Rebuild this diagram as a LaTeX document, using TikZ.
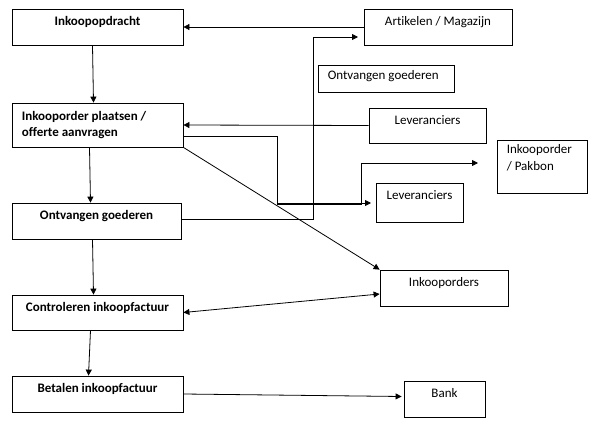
\documentclass[tikz,border=0pt]{standalone}
\usepackage{fontspec}
\setmainfont{Carlito}[Ligatures=NoCommon]
\usetikzlibrary{arrows.meta}
\tikzset{
  >={Triangle[length=6pt,width=6pt]},
  box/.style={draw,line width=0.8pt,inner sep=0pt},
  txt/.style={inner sep=0pt,anchor=base,font=\fontsize{13}{16}\selectfont},
  btxt/.style={txt,font=\fontsize{13}{16}\selectfont\bfseries},
  arr/.style={line width=0.8pt,->},
}
\begin{document}
\begin{tikzpicture}[x=1pt,y=-1pt]
\useasboundingbox (0,0) rectangle (595,428);
% process steps (left)
\foreach \nm/\bx/\by/\bw/\bh/\txt in {opdracht/12/9/171/36/Inkoopopdracht,
    ontvangen/12/203/169/36/Ontvangen goederen,
    controle/12/295/171/35/Controleren inkoopfactuur,
    betalen/12/376/171/36/Betalen inkoopfactuur} {
  \node[box,minimum width=\bw pt,minimum height=\bh pt] (\nm) at ({\bx+\bw/2},{\by+\bh/2}) {};
  \node[btxt] (\nm-t) at ([yshift=-17pt]\nm.north) {\txt};
}
\node[box,minimum width=171pt,minimum height=44pt] (plaatsen) at (97.5,125) {};
\node[btxt,anchor=base west,align=left] (plaatsen-t) at ([xshift=10pt,yshift=-34pt]plaatsen.north west) {Inkooporder plaatsen /\\offerte aanvragen};
% data stores (right)
\foreach \nm/\bx/\by/\bw/\bh/\txt in {artikelen/364/9/148/36/{Artikelen / Magazijn},
    levtop/369/108/117/35/Leveranciers,
    levbot/376/183/87/39/Leveranciers,
    orders/380/270/128/36/Inkooporders,
    bank/404/381/81/36/Bank} {
  \node[box,minimum width=\bw pt,minimum height=\bh pt] (\nm) at ({\bx+\bw/2},{\by+\bh/2}) {};
  \node[txt] (\nm-t) at ([yshift=-17pt]\nm.north) {\txt};
}
\node[box,minimum width=136pt,minimum height=27pt] (ontvangenr) at (386,78.5) {};
\node[txt,anchor=base west] (ontvangenr-t) at ([xshift=10pt,yshift=-15pt]ontvangenr.north west) {Ontvangen goederen};
\node[box,minimum width=90pt,minimum height=53pt] (pakbon) at (542,166.5) {};
\node[txt,anchor=base west,align=left,font=\fontsize{13}{17}\selectfont] (pakbon-t) at ([xshift=10pt,yshift=-31pt]pakbon.north west) {Inkooporder\\/ Pakbon};
% free arrow ends
\coordinate (artin) at (358,37);
\coordinate (levbotin) at (371,203);
\coordinate (pakbonin) at (478,163);
% flow
\draw[arr] ([xshift=-5pt]opdracht.south) -- ([xshift=-4pt]plaatsen.north);
\draw[arr] ([xshift=-8pt]plaatsen.south) -- ([xshift=-6pt]ontvangen.north);
\draw[arr] ([xshift=-4pt]ontvangen.south) -- ([xshift=-4pt]controle.north);
\draw[arr] ([xshift=-7pt]controle.south) -- ([xshift=-9pt]betalen.north);
\draw[arr] (artikelen.west) -- (opdracht.east);
\draw[arr] (levtop.west) -- (plaatsen.east);
\draw[arr] ([yshift=-11pt]plaatsen.east) -| (277,203) -- (levbotin);
\draw[arr] ([yshift=-11pt]plaatsen.east) -| (277,204) -- (361,204) |- (pakbonin);
\draw[arr] ([yshift=2pt]ontvangen.east) -| (313,37) -- (artin);
\draw[arr] (plaatsen.south east) -- (orders.north west);
\draw[line width=0.8pt,<->] (controle.east) -- ([yshift=-6pt]orders.west);
\draw[arr] (betalen.east) -- ([xshift=-2pt,yshift=2.5pt]bank.west);
\end{tikzpicture}
\end{document}
